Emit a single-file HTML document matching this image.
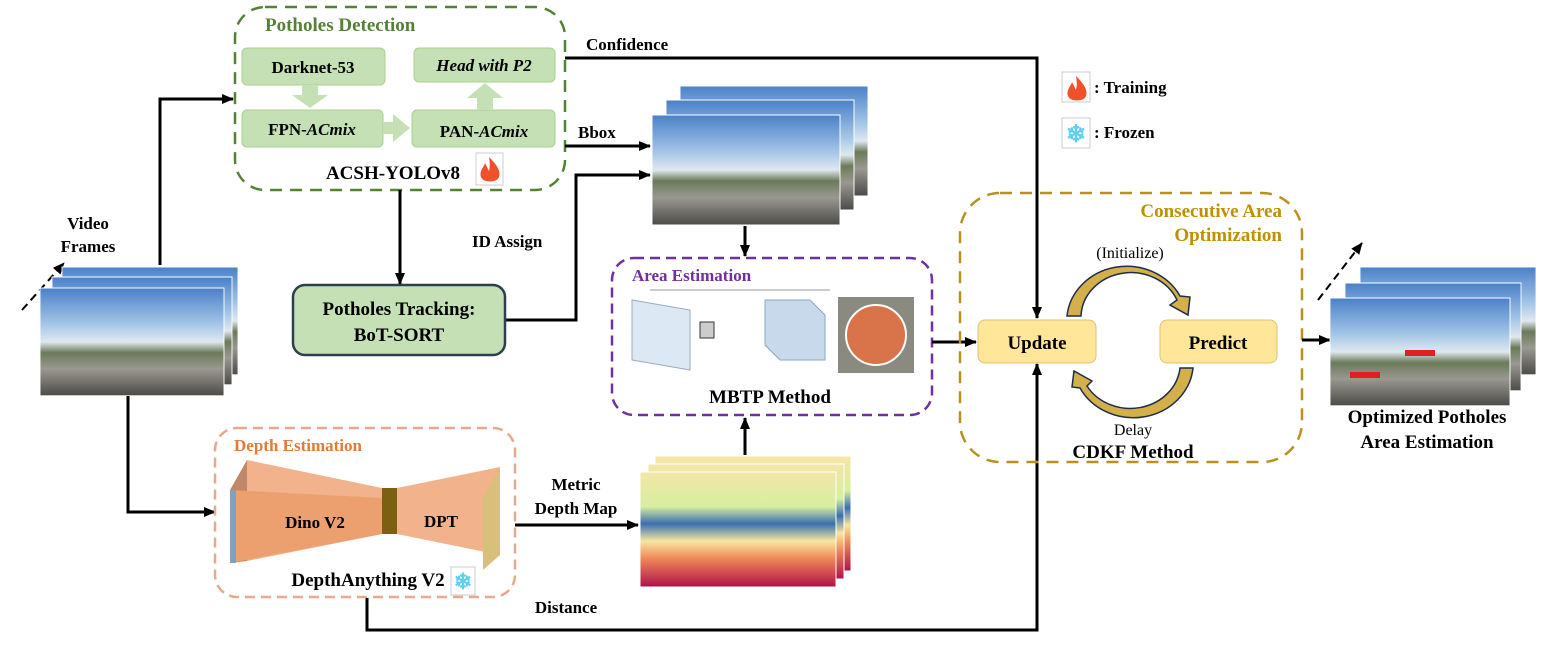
<!DOCTYPE html>
<html><head><meta charset="utf-8"><style>
html,body{margin:0;padding:0;background:#fff}
svg{display:block}
text{font-family:"Liberation Serif",serif;font-weight:bold}
text.n{font-weight:normal}
</style></head><body>
<svg width="1554" height="664" viewBox="0 0 1554 664" xmlns="http://www.w3.org/2000/svg">
<defs>
<marker id="ah" markerWidth="12" markerHeight="12" refX="11" refY="6" orient="auto" markerUnits="userSpaceOnUse"><path d="M0,1 L12,6 L0,11 Z" fill="#000"/></marker>
<linearGradient id="photo" x1="0" y1="0" x2="0" y2="1">
<stop offset="0" stop-color="#4a80c8"/><stop offset="0.35" stop-color="#a9c8e8"/><stop offset="0.5" stop-color="#dfe8ef"/><stop offset="0.6" stop-color="#6b7a5a"/><stop offset="0.75" stop-color="#9a9890"/><stop offset="1" stop-color="#4a4a48"/></linearGradient>
<linearGradient id="depth" x1="0" y1="0" x2="0" y2="1">
<stop offset="0" stop-color="#f3e6a8"/><stop offset="0.3" stop-color="#d8eea0"/><stop offset="0.45" stop-color="#3a6fb0"/><stop offset="0.6" stop-color="#f6e7a0"/><stop offset="0.75" stop-color="#f08a58"/><stop offset="1" stop-color="#b0104a"/></linearGradient>
<g id="ph"><rect width="200" height="110" fill="url(#photo)" stroke="#fff" stroke-width="1"/></g>
<g id="dm"><rect width="200" height="115" fill="url(#depth)" stroke="#fff" stroke-width="1"/></g>
</defs>

<!-- Potholes detection -->
<rect x="235" y="7" width="330" height="183" rx="30" fill="none" stroke="#548235" stroke-width="2.5" stroke-dasharray="12,8"/>
<text x="265" y="31" font-size="19" fill="#548235">Potholes Detection</text>
<rect x="242" y="48" width="143" height="37" rx="5" fill="#c5e0b4" stroke="#a9d08e"/>
<text x="313" y="73" font-size="17" text-anchor="middle">Darknet-53</text>
<rect x="414" y="48" width="141" height="34" rx="5" fill="#c5e0b4" stroke="#a9d08e"/>
<text x="484" y="71" font-size="17" text-anchor="middle" font-style="italic">Head with P2</text>
<rect x="242" y="110" width="141" height="37" rx="5" fill="#c5e0b4" stroke="#a9d08e"/>
<text x="312" y="135" font-size="17" text-anchor="middle">FPN-<tspan font-style="italic">ACmix</tspan></text>
<rect x="412" y="110" width="143" height="37" rx="5" fill="#c5e0b4" stroke="#a9d08e"/>
<text x="484" y="137" font-size="17" text-anchor="middle">PAN-<tspan font-style="italic">ACmix</tspan></text>
<path d="M302,85 h16 v10 h10 l-18,13 l-18,-13 h10z" fill="#c5e0b4"/>
<path d="M383,122 h10 v-8 l17,14 l-17,14 v-8 h-10z" fill="#c5e0b4"/>
<path d="M477,110 v-12 h-10 l18,-15 l18,15 h-10 v12z" fill="#c5e0b4"/>
<text x="393" y="179" font-size="19" text-anchor="middle">ACSH-YOLOv8</text>
<rect x="476" y="153" width="27" height="32" fill="#fff" stroke="#ccc"/>
<path d="M489,157 c8,8 12,14 10,20 c-2,6 -16,6 -18,0 c-2,-6 3,-10 4,-14 c2,4 3,6 4,8 c1,-4 1,-8 0,-14z" fill="#f0502a"/>

<!-- Video frames input -->
<text x="88" y="229" font-size="17" text-anchor="middle">Video</text>
<text x="88" y="252" font-size="17" text-anchor="middle">Frames</text>
<line x1="22" y1="310" x2="64" y2="263" stroke="#000" stroke-width="2" stroke-dasharray="8,5" marker-end="url(#ah)"/>
<use href="#ph" transform="translate(62,267) scale(0.88,0.98)"/>
<use href="#ph" transform="translate(52,277) scale(0.9,0.98)"/>
<use href="#ph" transform="translate(40,288) scale(0.92,0.98)"/>
<path d="M160,265 V99 H233" fill="none" stroke="#000" stroke-width="3" marker-end="url(#ah)"/>
<path d="M128,396 V512 H215" fill="none" stroke="#000" stroke-width="3" marker-end="url(#ah)"/>

<!-- Confidence / Bbox / ID -->
<text x="586" y="50" font-size="17">Confidence</text>
<path d="M565,58 H1037 V318" fill="none" stroke="#000" stroke-width="3" marker-end="url(#ah)"/>
<text x="578" y="138" font-size="17">Bbox</text>
<line x1="565" y1="146" x2="650" y2="146" stroke="#000" stroke-width="3" marker-end="url(#ah)"/>
<text x="472" y="247" font-size="17">ID Assign</text>
<path d="M505,320 H576 V175 H650" fill="none" stroke="#000" stroke-width="3" marker-end="url(#ah)"/>
<line x1="400" y1="190" x2="400" y2="284" stroke="#000" stroke-width="3" marker-end="url(#ah)"/>

<rect x="293" y="285" width="212" height="70" rx="12" fill="#c5e0b4" stroke="#2d3e50" stroke-width="2.5"/>
<text x="399" y="315" font-size="19" text-anchor="middle">Potholes Tracking:</text>
<text x="399" y="341" font-size="19" text-anchor="middle">BoT-SORT</text>

<!-- Stacked frames center -->
<use href="#ph" transform="translate(680,86) scale(0.94,1)"/>
<use href="#ph" transform="translate(666,100) scale(0.94,1)"/>
<use href="#ph" transform="translate(652,115) scale(0.94,1)"/>
<line x1="745" y1="226" x2="745" y2="256" stroke="#000" stroke-width="3" marker-end="url(#ah)"/>

<!-- Area Estimation -->
<rect x="612" y="258" width="320" height="157" rx="22" fill="none" stroke="#7030a0" stroke-width="2.5" stroke-dasharray="10,6"/>
<text x="632" y="281" font-size="17" fill="#7030a0">Area Estimation</text>
<polygon points="632,300 690,310 690,370 632,360" fill="#dde8f5" stroke="#9ab"/>
<rect x="700" y="322" width="14" height="16" fill="#ccc" stroke="#333"/>
<line x1="650" y1="290" x2="830" y2="290" stroke="#999"/>
<polygon points="765,300 810,300 825,315 825,360 780,360 765,345" fill="#c9d9ec" stroke="#8ab"/>
<rect x="838" y="297" width="76" height="76" fill="#8a8a80"/>
<circle cx="876" cy="335" r="30" fill="#d9734a" stroke="#fff" stroke-width="2"/>
<text x="770" y="403" font-size="19" text-anchor="middle">MBTP Method</text>
<line x1="932" y1="342" x2="976" y2="342" stroke="#000" stroke-width="3" marker-end="url(#ah)"/>

<!-- Depth Estimation -->
<rect x="215" y="428" width="300" height="169" rx="22" fill="none" stroke="#e8a98a" stroke-width="2.5" stroke-dasharray="10,6"/>
<text x="234" y="451" font-size="17" fill="#e07b39">Depth Estimation</text>
<polygon points="247,460 382,488 382,534 247,561" fill="#f2b28c"/>
<polygon points="230,490 247,460 247,561 230,563" fill="#c0886a"/>
<polygon points="230,490 382,498 382,534 230,563" fill="#eca070"/>
<rect x="230" y="490" width="6" height="73" fill="#7ea2c0"/>
<rect x="382" y="488" width="15" height="46" fill="#7a6010"/>
<polygon points="397,488 500,467 500,555 397,534" fill="#f2b28c"/>
<polygon points="483,498 500,467 500,555 483,570" fill="#d8c07a"/>
<text x="315" y="528" font-size="17" text-anchor="middle">Dino V2</text>
<text x="441" y="527" font-size="17" text-anchor="middle">DPT</text>
<text x="368" y="586" font-size="19" text-anchor="middle">DepthAnything V2</text>
<rect x="451" y="567" width="24" height="28" fill="#fff" stroke="#ccc"/>
<text x="463" y="589" font-size="22" fill="#5ed0f0" text-anchor="middle">❄</text>
<text x="576" y="490" font-size="17" text-anchor="middle">Metric</text>
<text x="576" y="514" font-size="17" text-anchor="middle">Depth Map</text>
<line x1="515" y1="525" x2="638" y2="525" stroke="#000" stroke-width="3" marker-end="url(#ah)"/>
<use href="#dm" transform="translate(655,456) scale(0.98,1)"/>
<use href="#dm" transform="translate(648,464) scale(0.98,1)"/>
<use href="#dm" transform="translate(640,472) scale(0.98,1)"/>
<line x1="745" y1="455" x2="745" y2="418" stroke="#000" stroke-width="3" marker-end="url(#ah)"/>
<text x="566" y="613" font-size="17" text-anchor="middle">Distance</text>
<path d="M367,598 V630 H1037 V364" fill="none" stroke="#000" stroke-width="3" marker-end="url(#ah)"/>

<!-- Legend -->
<rect x="1062" y="72" width="28" height="30" fill="#fff" stroke="#ccc"/>
<path d="M1076,76 c8,8 12,14 10,20 c-2,6 -16,6 -18,0 c-2,-6 3,-10 4,-14 c2,4 3,6 4,8 c1,-4 1,-8 0,-14z" fill="#f0502a"/>
<text x="1094" y="93" font-size="17">: Training</text>
<rect x="1062" y="118" width="28" height="30" fill="#fff" stroke="#ccc"/>
<text x="1076" y="142" font-size="24" fill="#5ed0f0" text-anchor="middle">❄</text>
<text x="1094" y="138" font-size="17">: Frozen</text>

<!-- CAO -->
<rect x="960" y="193" width="342" height="269" rx="40" fill="none" stroke="#b8921e" stroke-width="2.5" stroke-dasharray="12,8"/>
<text x="1282" y="217" font-size="19" fill="#bf9000" text-anchor="end">Consecutive Area</text>
<text x="1282" y="241" font-size="19" fill="#bf9000" text-anchor="end">Optimization</text>
<text class="n" x="1130" y="258" font-size="16" text-anchor="middle">(Initialize)</text>
<rect x="978" y="320" width="118" height="43" rx="7" fill="#ffe699" stroke="#e0c070"/>
<text x="1037" y="349" font-size="19" text-anchor="middle">Update</text>
<rect x="1160" y="320" width="117" height="43" rx="7" fill="#ffe699" stroke="#e0c070"/>
<text x="1218" y="349" font-size="19" text-anchor="middle">Predict</text>
<path d="M1067,316 A60,55 0 0 1 1180,296 L1190,297 L1188,315 L1170,305 L1177,300 A50,45 0 0 0 1081,316 Z" fill="#d4b04a" stroke="#1f2d4a" stroke-width="1.5"/>
<path d="M1193,368 A60,55 0 0 1 1080,388 L1072,387 L1074,371 L1092,381 L1087,386 A50,45 0 0 0 1180,368 Z" fill="#d4b04a" stroke="#1f2d4a" stroke-width="1.5"/>
<text class="n" x="1133" y="435" font-size="16" text-anchor="middle">Delay</text>
<text x="1133" y="458" font-size="19" text-anchor="middle">CDKF Method</text>
<line x1="1302" y1="340" x2="1330" y2="340" stroke="#000" stroke-width="3" marker-end="url(#ah)"/>

<!-- output -->
<line x1="1318" y1="300" x2="1362" y2="243" stroke="#000" stroke-width="2" stroke-dasharray="8,5" marker-end="url(#ah)"/>
<use href="#ph" transform="translate(1360,267) scale(0.88,0.98)"/>
<use href="#ph" transform="translate(1345,283) scale(0.88,0.98)"/>
<use href="#ph" transform="translate(1330,298) scale(0.9,0.98)"/>
<rect x="1405" y="350" width="30" height="6" fill="#e02020"/>
<rect x="1350" y="372" width="30" height="6" fill="#e02020"/>
<text x="1427" y="423" font-size="19" text-anchor="middle">Optimized Potholes</text>
<text x="1427" y="448" font-size="19" text-anchor="middle">Area Estimation</text>
</svg>
</body></html>
